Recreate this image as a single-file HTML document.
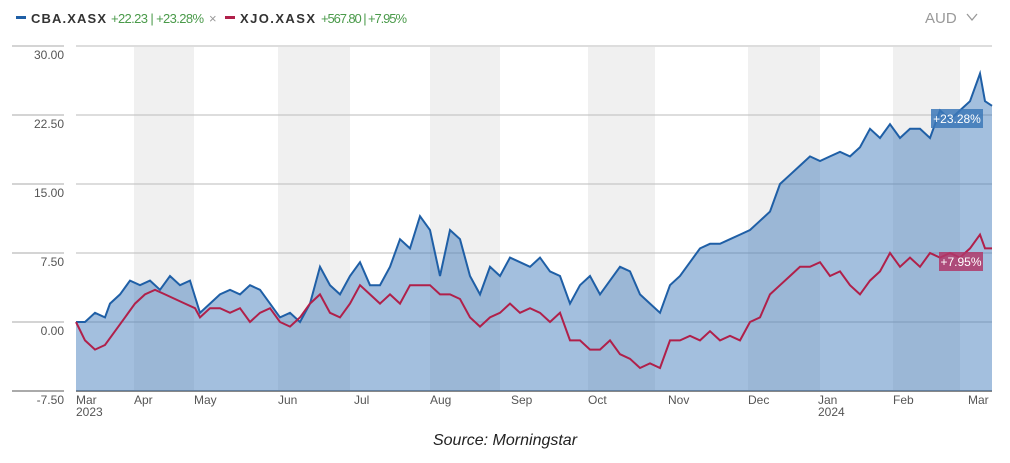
<!DOCTYPE html>
<html><head><meta charset="utf-8"><style>
body{margin:0;background:#fff;width:1010px;height:458px;overflow:hidden;font-family:"Liberation Sans",sans-serif}
</style></head><body>
<svg id="s" width="1010" height="458" xmlns="http://www.w3.org/2000/svg" font-family="Liberation Sans, sans-serif">
<g id="bands"></g>
<g font-size="13" style="font-stretch:condensed">
<rect x="16" y="16" width="10" height="3" fill="#1f5fa6"/>
<text x="31" y="23" fill="#333" font-weight="bold" textLength="75">CBA.XASX</text>
<text x="111" y="23" fill="#4a9a4a" textLength="93">+22.23 | +23.28%</text>
<text x="209" y="23" fill="#999">×</text>
<rect x="225" y="16" width="10" height="3" fill="#b0204a"/>
<text x="240" y="23" fill="#333" font-weight="bold" textLength="75">XJO.XASX</text>
<text x="321" y="23" fill="#4a9a4a" textLength="86">+567.80 | +7.95%</text>
<text x="925" y="23" fill="#999" font-size="15">AUD</text>
<path d="M967 14 l5 6 l5 -6" stroke="#999" fill="none" stroke-width="1.3"/>
</g>
<g id="grid"></g>
<path id="area" fill="rgba(60,120,185,0.47)"/>
<path id="cba" fill="none" stroke="#1f5fa6" stroke-width="2"/>
<path id="xjo" fill="none" stroke="#b0204a" stroke-width="2"/>
<rect x="931" y="109" width="52" height="19" fill="#3c78b8" opacity="0.85"/>
<text x="957" y="123" fill="#fff" font-size="12" text-anchor="middle">+23.28%</text>
<rect x="939" y="252" width="44" height="19" fill="#b0386a" opacity="0.85"/>
<text x="961" y="266" fill="#fff" font-size="12" text-anchor="middle">+7.95%</text>
<g id="lab" font-size="12" fill="#555"></g>
<text x="505" y="445" text-anchor="middle" font-size="16" font-style="italic" fill="#222">Source: Morningstar</text>
</svg>
<script>
const Y=v=>322-v*9.2;
const ns="http://www.w3.org/2000/svg";
function el(p,t,a,txt){const e=document.createElementNS(ns,t);for(const k in a)e.setAttribute(k,a[k]);if(txt)e.textContent=txt;document.getElementById(p).appendChild(e);}
[[134,194],[278,350],[430,500],[588,655],[748,820],[893,960]].forEach(b=>el('bands','rect',{x:b[0],y:47,width:b[1]-b[0],height:344,fill:'#f0f0f0'}));
[30,22.5,15,7.5,0,-7.5].forEach((v,i)=>{const y=Y(v);const lbl=['30.00','22.50','15.00','7.50','0.00','-7.50'][i];
el('grid','line',{x1:12,x2:64,y1:y,y2:y,stroke:'#aaa','stroke-width':i==5?2:1});
el('grid','line',{x1:76,x2:992,y1:y,y2:y,stroke:i==5?'#888':'#bbb','stroke-width':i==5?2:1});
el('lab','text',{x:64,y:y+13,'text-anchor':'end'},lbl);});
[['Mar',76],['Apr',134],['May',194],['Jun',278],['Jul',354],['Aug',430],['Sep',511],['Oct',588],['Nov',668],['Dec',748],['Jan',818],['Feb',893],['Mar',968]].forEach(m=>el('lab','text',{x:m[1],y:404},m[0]));
el('lab','text',{x:76,y:416},'2023');el('lab','text',{x:818,y:416},'2024');
const c=[[76,0],[85,0],[95,1],[105,0.5],[110,2],[120,3],[130,4.5],[140,4],[150,4.5],[160,3.5],[170,5],[180,4],[190,4.5],[200,1],[210,2],[220,3],[230,3.5],[240,3],[250,4],[260,3.5],[270,2],[280,0.5],[290,1],[300,0],[310,2],[320,6],[330,4],[340,3],[350,5],[360,6.5],[370,4],[380,4],[390,6],[400,9],[410,8],[420,11.5],[430,10],[440,5],[450,10],[460,9],[470,5],[480,3],[490,6],[500,5],[510,7],[520,6.5],[530,6],[540,7],[550,5.5],[560,5],[570,2],[580,4],[590,5],[600,3],[610,4.5],[620,6],[630,5.5],[640,3],[650,2],[660,1],[670,4],[680,5],[690,6.5],[700,8],[710,8.5],[720,8.5],[730,9],[740,9.5],[750,10],[760,11],[770,12],[780,15],[790,16],[800,17],[810,18],[820,17.5],[830,18],[840,18.5],[850,18],[860,19],[870,21],[880,20],[890,21.5],[900,20],[910,21],[920,21],[930,20],[940,23],[950,22],[960,23],[970,24],[980,27],[985,24],[992,23.5]];
const x=[[76,0],[85,-2],[95,-3],[105,-2.5],[115,-1],[125,0.5],[135,2],[145,3],[155,3.5],[165,3],[175,2.5],[185,2],[195,1.5],[200,0.5],[210,1.5],[220,1.5],[230,1],[240,1.5],[250,0],[260,1],[270,1.5],[280,0],[290,-0.5],[300,0.5],[310,2],[320,3],[330,1],[340,0.5],[350,2],[360,4],[370,3],[380,2],[390,3],[400,2],[410,4],[420,4],[430,4],[440,3],[450,3],[460,2.5],[470,0.5],[480,-0.5],[490,0.5],[500,1],[510,2],[520,1],[530,1.5],[540,1],[550,0],[560,1],[570,-2],[580,-2],[590,-3],[600,-3],[610,-2],[620,-3.5],[630,-4],[640,-5],[650,-4.5],[660,-5],[670,-2],[680,-2],[690,-1.5],[700,-2],[710,-1],[720,-2],[730,-1.5],[740,-2],[750,0],[760,0.5],[770,3],[780,4],[790,5],[800,6],[810,6],[820,6.5],[830,5],[840,5.5],[850,4],[860,3],[870,4.5],[880,5.5],[890,7.5],[900,6],[910,7],[920,6],[930,7.5],[940,7],[950,7.5],[960,7],[970,8],[980,9.5],[985,8],[992,8]];
const p=a=>a.map((q,i)=>(i?'L':'M')+q[0]+' '+Y(q[1]).toFixed(1)).join(' ');
document.getElementById('cba').setAttribute('d',p(c));
document.getElementById('xjo').setAttribute('d',p(x));
document.getElementById('area').setAttribute('d',p(c)+' L992 391 L76 391 Z');
</script>
</body></html>
